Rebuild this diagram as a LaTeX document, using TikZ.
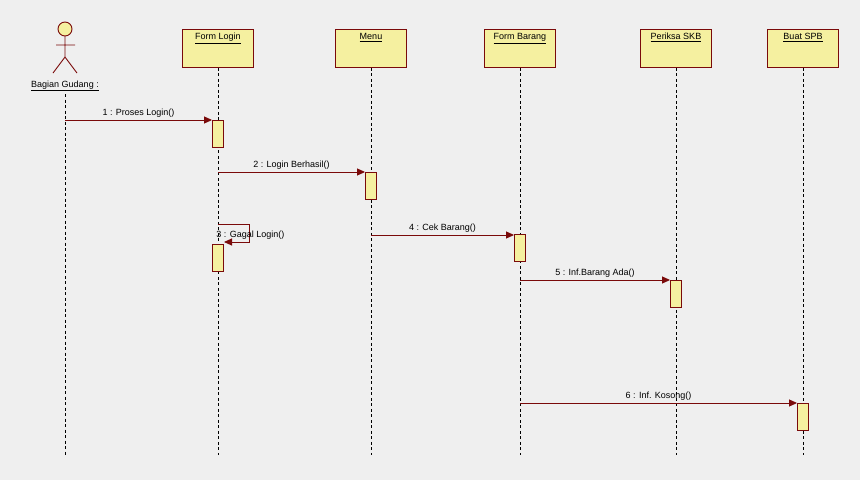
\documentclass[tikz,border=0pt]{standalone}
\usepackage{fontspec}
\setmainfont{Liberation Sans}
\usetikzlibrary{arrows.meta}
\definecolor{bg}{HTML}{EFEFEF}
\definecolor{bfill}{HTML}{F5F0A0}
\definecolor{brd}{HTML}{7A0A0A}
\begin{document}
\begin{tikzpicture}[x=1pt,y=-1pt,line width=0.9pt,
  obj/.style={draw=brd,fill=bfill,minimum width=71pt,minimum height=38pt,inner sep=0pt,font=\fontsize{9}{10}\selectfont,anchor=north,align=center},
  act/.style={draw=brd,fill=bfill,minimum width=11pt,inner sep=0pt},
  life/.style={line width=0.8pt,dash pattern=on 3pt off 2.5pt,black},
  msg/.style={draw=brd,-{Triangle[length=8pt,width=7pt]}},
  lab/.style={font=\fontsize{9}{10}\selectfont,above,inner sep=2pt}]
\fill[bg] (0,0) rectangle (860,480);
\useasboundingbox (0,0) rectangle (860,480);
% actor
\draw[brd,fill=bfill] (65,29) circle (7);
\draw[brd] (65,36) -- (65,57) (56,45) -- (75,45) (53,73) -- (65,57) -- (77,73);
\node[font=\fontsize{9}{10}\selectfont] (act0) at (65,86) {\underline{Bagian Gudang :}};
\coordinate (l0t) at (65,94); \coordinate (l0b) at (65,455);
\draw[life] (l0t) -- (l0b);
% objects
\foreach \n/\x/\t in {fl/218/Form Login,mn/371/Menu,fb/520/Form Barang,ps/676/Periksa SKB,bs/803/Buat SPB}{
  \node[obj] (\n) at (\x,29) {\underline{\t}\\[14pt]\mbox{}};
  \coordinate (\n b) at (\x,455);
  \draw[life] (\n.south) -- (\n b);
}
% activations
\node[act,minimum height=27pt] (a1) at (218,133.5) {};
\node[act,minimum height=27pt] (a2) at (371,185.5) {};
\node[act,minimum height=27pt] (a3) at (218,257.5) {};
\node[act,minimum height=27pt] (a4) at (520,247.5) {};
\node[act,minimum height=27pt] (a5) at (676,293.5) {};
\node[act,minimum height=27pt] (a6) at (803,416.5) {};
% messages
\coordinate (m1s) at (65,120);
\draw[msg] (m1s) -- node[lab]{1 : Proses Login()} (m1s -| a1.west);
\coordinate (m2s) at (218,172);
\draw[msg] (m2s) -- node[lab]{2 : Login Berhasil()} (m2s -| a2.west);
\coordinate (m3s) at (218,224); \coordinate (m3a) at (249,224); \coordinate (m3b) at (249,242); \coordinate (m3e) at (224,242);
\draw[msg] (m3s) -- (m3a) -- (m3b) -- (m3e);
\node[font=\fontsize{9}{10}\selectfont,anchor=west,inner sep=0pt] (l3) at (216,235) {3 : Gagal Login()};
\coordinate (m4s) at (371,235);
\draw[msg] (m4s) -- node[lab]{4 : Cek Barang()} (m4s -| a4.west);
\coordinate (m5s) at (520,280);
\draw[msg] (m5s) -- node[lab]{5 : Inf.Barang Ada()} (m5s -| a5.west);
\coordinate (m6s) at (520,403);
\draw[msg] (m6s) -- node[lab]{6 : Inf. Kosong()} (m6s -| a6.west);
\end{tikzpicture}
\end{document}
